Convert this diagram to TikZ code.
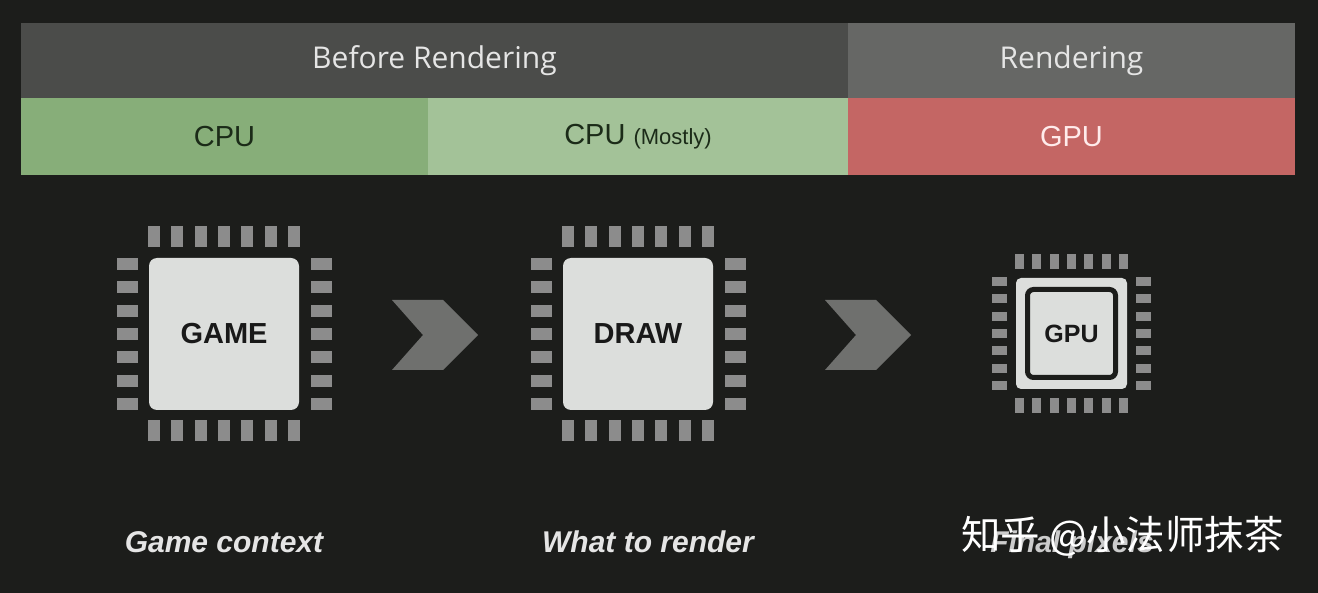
\documentclass[tikz,border=0pt]{standalone}
\usepackage{fontspec}
\setmainfont{Liberation Sans}
\newfontfamily\headfont{Open Sans}
\newfontfamily\cjkfont{Noto Sans CJK SC}
\usepackage{xcolor}
\definecolor{bgdark}{HTML}{1C1D1B}
\definecolor{bardark}{HTML}{4B4C4A}
\definecolor{bargray}{HTML}{666765}
\definecolor{cpugreen}{HTML}{87AE79}
\definecolor{cpulight}{HTML}{A3C298}
\definecolor{gpured}{HTML}{C46664}
\definecolor{pingray}{HTML}{8C8C8C}
\definecolor{chiplight}{HTML}{DCDEDC}
\definecolor{chevgray}{HTML}{6F706E}
\definecolor{inkdark}{HTML}{1B2B18}

\begin{document}
\begin{tikzpicture}[x=1pt, y=-1pt,
    band/.style={inner sep=0pt, minimum height=75},
    head/.style={band, text=white!90!black, font=\headfont\fontsize{30}{36}\selectfont},
    unit/.style={inner sep=0pt, minimum height=77, text=inkdark, font=\fontsize{29}{35}\selectfont},
    chip/.style={fill=chiplight, rounded corners=8, inner sep=0pt, text=black!90, font=\bfseries\fontsize{29}{35}\selectfont},
    pin/.style={fill=pingray},
    chevron/.style={fill=chevgray},
    caption/.style={anchor=base, inner sep=0pt, text=white!90!black, font=\bfseries\itshape\fontsize{30}{36}\selectfont}]
    % Background
    \fill[bgdark] (0,0) rectangle (1318,593);
    \useasboundingbox (0,0) rectangle (1318,593);

    % Header bands
    \node[head, fill=bardark, minimum width=827] (before) at (434.5,60.5) {Before Rendering};
    \node[head, fill=bargray, minimum width=447] (render) at (1071.5,60.5) {Rendering};
    \node[unit, fill=cpugreen, minimum width=407] (cpu) at (224.5,136.5) {CPU};
    \node[unit, fill=cpulight, minimum width=420] (cpumost) at (638,136.5) {CPU {\fontsize{22}{26}\selectfont(Mostly)}};
    \node[unit, fill=gpured, minimum width=447, text=red!8!white] (gpuhead) at (1071.5,136.5) {GPU};

    % Chips
    \node[chip, minimum width=150, minimum height=152] (game) at (224,334) {GAME};
    \node[chip, minimum width=150, minimum height=152] (draw) at (638,334) {DRAW};
    \node[chip, minimum size=111, rounded corners=5] (gpu) at (1071.5,333.5) {};
    \node[chip, minimum size=88, rounded corners=6, draw=bgdark, line width=5pt,
          font=\bfseries\fontsize{25}{30}\selectfont] (gpucore) at (gpu) {GPU};

    % Pins around each chip
    \foreach \c/\a/\d/\w/\l in {game/70/97/12/21, draw/70/97/12/21, gpu/52/72/9/15} {
        \begin{scope}[shift={(\c)}]
            \foreach \i in {0,...,6} {
                \pgfmathsetmacro\pos{-\a+\i*\a/3}
                \fill[pin] (\pos-\w/2, -\d-\l/2) rectangle ++(\w,\l);
                \fill[pin] (\pos-\w/2, \d-\l/2) rectangle ++(\w,\l);
                \fill[pin] (-\d-\l/2, \pos-\w/2) rectangle ++(\l,\w);
                \fill[pin] (\d-\l/2, \pos-\w/2) rectangle ++(\l,\w);
            }
        \end{scope}
    }

    % Chevrons between chips
    \foreach \x in {392,825}
        \fill[chevron] (\x,300) -- ++(51,0) -- ++(35,35) -- ++(-35,35) -- ++(-51,0) -- ++(31,-35) -- cycle;

    % Captions
    \node[caption] (gamecap) at (224,552) {Game context};
    \node[caption] (drawcap) at (648,552) {What to render};
    \node[caption, text=white!80!black] (gpucap) at (1072,552) {Final pixels};
    \node[anchor=base west, inner sep=0pt, text=white, font=\cjkfont\fontsize{39.5}{42}\selectfont] (mark) at (961,549) {知乎 @小法师抹茶};
\end{tikzpicture}
\end{document}
